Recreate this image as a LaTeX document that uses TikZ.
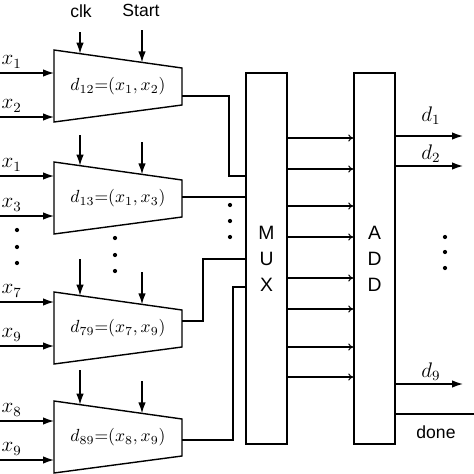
\documentclass[tikz,border=0pt]{standalone}
\usepackage{fontspec}
\setsansfont{Liberation Sans}
\usetikzlibrary{arrows.meta}
% one distance unit: #1#2 pair, #3 top, #4/#5 input rows, #6 output row, #7 clk wire start
\newcommand{\distunit}[7]{%
	\draw[unit] (54,#3) -- (182,#3+18) -- (182,#3+55) -- (54,#3+72) -- cycle;
	\node (u#1#2) at (118,#3+36) {$d_{#1#2}{=}(x_{#1},x_{#2})$};
	\coordinate (u#1#2-a) at (54,#4);
	\coordinate (u#1#2-b) at (54,#5);
	\coordinate (u#1#2-ai) at (0,#4);
	\coordinate (u#1#2-bi) at (0,#5);
	\draw[sig] (u#1#2-ai) -- (u#1#2-a);
	\draw[sig] (u#1#2-bi) -- (u#1#2-b);
	\node[xlab] (u#1#2-la) at (0,#4-11) {$x_{#1}$};
	\node[xlab] (u#1#2-lb) at (0,#5-11) {$x_{#2}$};
	\coordinate (u#1#2-clk) at (80,#3+3.7);
	\coordinate (u#1#2-st) at (142,#3+12.4);
	\coordinate (u#1#2-clki) at (80,#7);
	\coordinate (u#1#2-sti) at (142,#3-20);
	\draw[sig] (u#1#2-clki) -- (u#1#2-clk);
	\draw[sig] (u#1#2-sti) -- (u#1#2-st);
	\coordinate (u#1#2-out) at (182,#6);
}

\begin{document}
\begin{tikzpicture}[x=0.02cm, y=-0.02cm, line width=0.8pt,
		unit/.style={line width=0.8pt},
		sig/.style={-{Latex[length=2.2mm,width=1.5mm]}},
		bus/.style={line width=0.6pt, -{To[length=1mm,width=1.4mm]}},
		xlab/.style={font=\large, anchor=west, inner sep=0.5pt},
		block/.style={draw, minimum width=0.82cm, minimum height=7.42cm, inner sep=0pt,
			align=center, font=\sffamily\fontsize{11}{14.8}\selectfont},
		dot/.style={circle, fill, inner sep=0pt, minimum size=2.4pt}]
	\useasboundingbox (0,0) rectangle (474,474);
	
	%%%%% UNITS %%%%%
	\node[font=\sffamily] (clk) at (81,11) {clk};
	\node[font=\sffamily] (start) at (141,10) {Start};
	
	\distunit{1}{2}{50}{73}{117}{96}{32}
	\distunit{1}{3}{162}{176}{216}{197}{135}
	\distunit{7}{9}{292}{302}{346}{321}{259}
	\distunit{8}{9}{401}{421}{460}{440}{370}
	
	\foreach \y in {230,247,263} \node[dot] at (17,\y) {};
	\foreach \y in {238,255,271} \node[dot] at (115,\y) {};
	\foreach \y in {205,221,237} \node[dot] at (230,\y) {};
	\foreach \y in {237,252,268} \node[dot] at (445,\y) {};
	
	%%%%% MUX AND ADDER %%%%%
	\node[block] (mux) at (266.5,258.5) {M\\U\\X};
	\node[block] (add) at (374.5,258.5) {A\\D\\D};
	
	\draw (u12-out) -| (229,176) -- (mux.west |- 0,176);
	\draw (u13-out) -- (mux.west |- u13-out);
	\draw (u79-out) -| (203,259) -- (mux.west |- 0,259);
	\draw (u89-out) -| (233,287) -- (mux.west |- 0,287);
	
	\foreach \y in {138,169,206,237,278,309,347,377}
		\draw[bus] (mux.east |- 0,\y) -- (add.west |- 0,\y);
	
	%%%%% OUTPUTS %%%%%
	\coordinate (o1) at (463,136);
	\coordinate (o2) at (463,166);
	\coordinate (o9) at (463,384);
	\coordinate (od) at (474,414);
	\draw[sig] (add.east |- o1) -- (o1);
	\draw[sig] (add.east |- o2) -- (o2);
	\draw[sig] (add.east |- o9) -- (o9);
	\draw (add.east |- od) -- (od);
	\node[font=\large] (d1) at (431,116) {$d_1$};
	\node[font=\large] (d2) at (431,154) {$d_2$};
	\node[font=\large] (d9) at (431,372) {$d_9$};
	\node[font=\sffamily] (done) at (436,432) {done};
\end{tikzpicture}
\end{document}
